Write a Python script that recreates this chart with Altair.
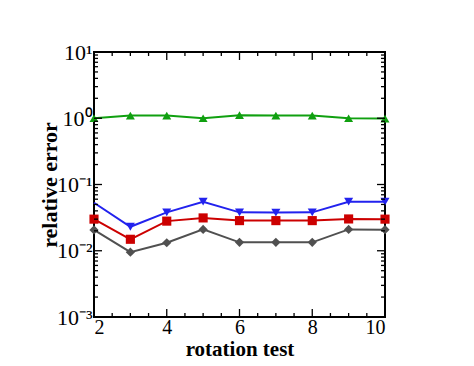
import altair as alt
import pandas as pd

x_vals = [2, 3, 4, 5, 6, 7, 8, 9, 10]
green = [1.0, 1.1, 1.1, 1.0, 1.11, 1.1, 1.1, 1.0, 0.99]
blue = [0.053, 0.023, 0.038, 0.055, 0.038, 0.0377, 0.038, 0.055, 0.055]
red = [0.030, 0.0149, 0.028, 0.0313, 0.0285, 0.0285, 0.0285, 0.0302, 0.030]
gray = [0.0206, 0.0095, 0.0132, 0.021, 0.0134, 0.0134, 0.0134, 0.021, 0.0208]

series_names = ["green", "blue", "red", "gray"]
series_vals = [green, blue, red, gray]
series_colors = ["#10a010", "#2222ee", "#cc0000", "#505050"]
series_shapes = ["triangle-up", "triangle-down", "square", "diamond"]
series_sizes = [80, 85, 85, 120]

x_major = [2, 4, 6, 8, 10]
x_minor = [2.5, 3, 3.5, 4.5, 5, 5.5, 6.5, 7, 7.5, 8.5, 9, 9.5]
y_major = [0.001, 0.01, 0.1, 1, 10]
y_minor = [m * d for d in [0.001, 0.01, 0.1, 1] for m in range(2, 10)]

rows = []
for name, vals in zip(series_names, series_vals):
    for i, (x, v) in enumerate(zip(x_vals, vals)):
        rows.append({"x": x, "y": v, "s": name, "mark": not (name == "blue" and i == 0)})
df = pd.DataFrame(rows)

W, H = 291, 265
FONT = "Liberation Serif"

xs = alt.Scale(domain=[2, 10], nice=False, zero=False)
ys = alt.Scale(type="log", domain=[0.001, 10], nice=False)
cs = alt.Scale(domain=series_names, range=series_colors)
ss = alt.Scale(domain=series_names, range=series_shapes)

label_expr = ("datum.value >= 5 ? '10¹' : datum.value >= 0.5 ? '10⁰' : "
              "datum.value >= 0.05 ? '10⁻¹' : datum.value >= 0.005 ? '10⁻²' : '10⁻³'")

xaxis = alt.Axis(values=x_major, tickSize=0, domain=False, grid=False,
                 labelFont=FONT, labelFontSize=20, labelPadding=0, labelColor="black",
                 title="rotation test", titleFont=FONT, titleFontSize=21,
                 titleFontWeight="bold", titlePadding=1, titleColor="black")
yaxis = alt.Axis(values=y_major, tickSize=0, domain=False, grid=False,
                 labelExpr=label_expr, labelFont=FONT, labelFontSize=22,
                 labelPadding=2, labelColor="black",
                 title="relative error", titleFont=FONT, titleFontSize=22,
                 titleFontWeight="bold", titlePadding=-5, titleColor="black")

base = alt.Chart(df)
lines = base.mark_line(strokeWidth=2).encode(
    x=alt.X("x:Q", scale=xs, axis=xaxis),
    y=alt.Y("y:Q", scale=ys, axis=yaxis),
    color=alt.Color("s:N", scale=cs, legend=None),
    detail="s:N",
)
points = base.transform_filter("datum.mark").mark_point(filled=True, opacity=1).encode(
    x=alt.X("x:Q", scale=xs),
    y=alt.Y("y:Q", scale=ys),
    color=alt.Color("s:N", scale=cs, legend=None),
    shape=alt.Shape("s:N", scale=ss, legend=None),
    size=alt.Size("s:N", scale=alt.Scale(domain=series_names, range=series_sizes), legend=None),
)

def yt(vals, x0, x1):
    return alt.Chart(pd.DataFrame({"v": vals})).mark_rule(color="black", strokeWidth=1.3).encode(
        y=alt.Y("v:Q", scale=ys), x=alt.value(x0), x2=alt.value(x1))

def xt(vals, y0, y1):
    return alt.Chart(pd.DataFrame({"v": vals})).mark_rule(color="black", strokeWidth=1.3).encode(
        x=alt.X("v:Q", scale=xs), y=alt.value(y0), y2=alt.value(y1))

ticks = [
    yt(y_major, 0, 8), yt(y_minor, 0, 4), yt(y_major, W, W - 8), yt(y_minor, W, W - 4),
    xt(x_major, H, H - 8), xt(x_minor, H, H - 4), xt(x_major, 0, 8), xt(x_minor, 0, 4),
]

chart = alt.layer(lines, points, *ticks).properties(
    width=W, height=H,
    padding={"left": 86, "top": 44, "right": 70, "bottom": 47},
    autosize=alt.AutoSizeParams(type="none"),
).configure_view(stroke="black", strokeWidth=2)

chart.save("out.html", embed_options={"renderer": "svg", "actions": False})
